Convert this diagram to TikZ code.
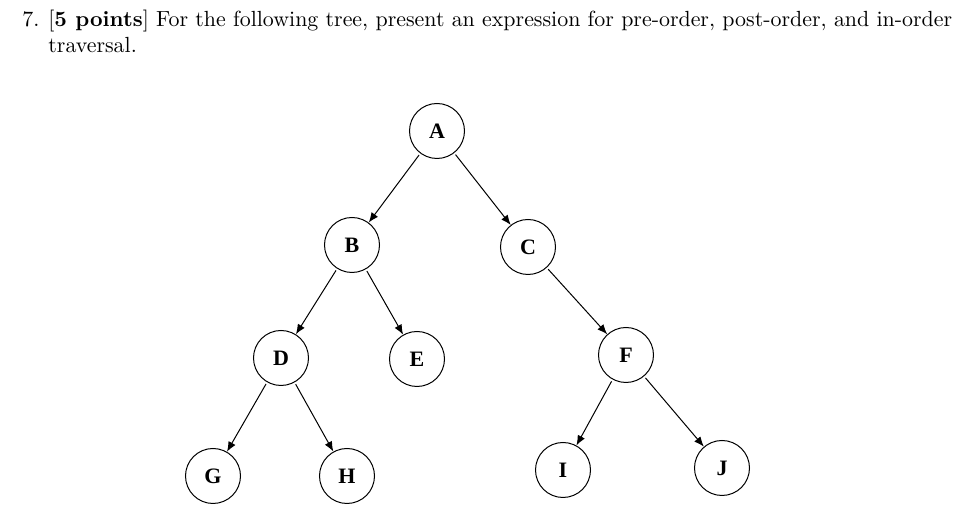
\documentclass[tikz,border=0pt]{standalone}
\usepackage{fontspec}
\newfontfamily\nodefont{Liberation Serif}
\usetikzlibrary{arrows.meta}
\begin{document}
\begin{tikzpicture}[x=0.5pt,y=-0.5pt,
  tx/.style={anchor=base west,inner sep=0pt,font=\fontsize{10.95}{13}\selectfont},
  tn/.style={circle,draw,line width=0.5pt,minimum size=27.5pt,inner sep=0pt,font=\nodefont\bfseries\fontsize{11}{13}\selectfont},
  ed/.style={-{Latex[length=5pt,width=4pt]},line width=0.5pt,shorten <=1pt}]
\useasboundingbox (0,0) rectangle (966,528);
\node[tx] (n7) at (22,27) {7.};
\node[tx] (q1) at (48,27) {[\textbf{5 points}] For the following tree, present an expression for pre-order, post-order, and in-order};
\node[tx] (q2) at (48,53) {traversal.};
\node[tn] (A) at (437,131) {A};
\node[tn] (B) at (352,245) {B};
\node[tn] (C) at (528,247) {C};
\node[tn] (D) at (281,358) {D};
\node[tn] (E) at (417,359) {E};
\node[tn] (F) at (626,355) {F};
\node[tn] (G) at (213,476) {G};
\node[tn] (H) at (347,476) {H};
\node[tn] (I) at (563,470) {I};
\node[tn] (J) at (722,468) {J};
\draw[ed] (A) -- (B);
\draw[ed] (A) -- (C);
\draw[ed] (B) -- (D);
\draw[ed] (B) -- (E);
\draw[ed] (C) -- (F);
\draw[ed] (D) -- (G);
\draw[ed] (D) -- (H);
\draw[ed] (F) -- (I);
\draw[ed] (F) -- (J);
\end{tikzpicture}
\end{document}
